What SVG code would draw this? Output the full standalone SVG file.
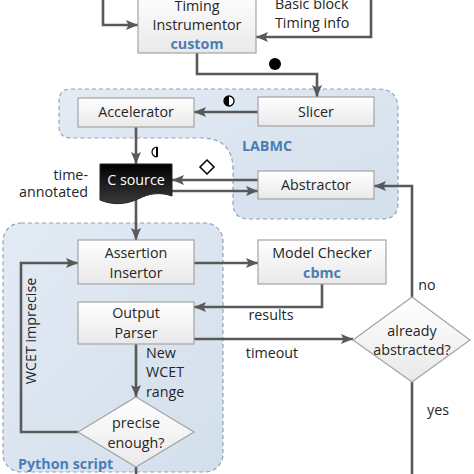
<svg xmlns="http://www.w3.org/2000/svg" width="474" height="474" viewBox="0 0 474 474">
<defs>
<linearGradient id="boxg" x1="0" y1="0" x2="0" y2="1"><stop offset="0" stop-color="#ffffff"/><stop offset="1" stop-color="#e9e9e9"/></linearGradient>
<linearGradient id="regg" x1="0" y1="0" x2="1" y2="1"><stop offset="0" stop-color="#e3ebf4"/><stop offset="1" stop-color="#d3dfec"/></linearGradient>
<linearGradient id="docg" x1="0" y1="0" x2="0" y2="1"><stop offset="0" stop-color="#000000"/><stop offset="1" stop-color="#3a3a3a"/></linearGradient>
<marker id="ah" viewBox="0 0 12 10" refX="12" refY="5" markerWidth="12" markerHeight="10" orient="auto" markerUnits="userSpaceOnUse"><path d="M0,0 L12,5 L0,10 L2.5,5 Z" fill="#595959"/></marker>
</defs>
<style>
text{font-family:"Open Sans","Liberation Sans",sans-serif;font-size:14.3px;fill:#262626}
.c{text-anchor:middle}
.b{fill:#4a7db5;font-weight:bold}
.box{fill:url(#boxg);stroke:#a3a3a3;stroke-width:1.2}
.dia{fill:url(#boxg);stroke:#a3a3a3;stroke-width:1.2}
.reg{fill:url(#regg);stroke:#8ea4bb;stroke-width:1.2;stroke-dasharray:4 3}
.ln{fill:none;stroke:#595959;stroke-width:2.6}
.ar{marker-end:url(#ah)}
</style>
<rect width="474" height="474" fill="#ffffff"/>
<g id="region-labmc">
<path class="reg" d="M71,89 H378 Q398,89 398,109 V203 Q398,219 382,219 H249 Q233,219 233,203 V170 Q233,138 201,138 H71 Q59,138 59,126 V101 Q59,89 71,89 Z"/>
<text class="c b" x="267" y="151">LABMC</text>
</g>
<g id="region-python">
<rect class="reg" x="3" y="223" width="220" height="249" rx="18"/>
<text class="b" x="18" y="469">Python script</text>
</g>
<g id="connectors">
<path class="ln ar" d="M103,-5 V25 H138"/>
<path class="ln ar" d="M371,-5 V37 H256"/>
<path class="ln ar" d="M197,53 V74 H317 V97"/>
<path class="ln ar" d="M258,112 H194"/>
<path class="ln ar" d="M136,127 V164"/>
<path class="ln ar" d="M258,180 H172"/>
<path class="ln ar" d="M172,191 H258"/>
<path class="ln ar" d="M136,200 V240"/>
<path class="ln ar" d="M194,263 H258"/>
<path class="ln ar" d="M322,284 V307 H194"/>
<path class="ln ar" d="M194,339 H353"/>
<path class="ln ar" d="M412,297 V186 H374"/>
<path class="ln" d="M412,382 V480"/>
<path class="ln ar" d="M136,344 V397"/>
<path class="ln ar" d="M78,432 H21 V263 H78"/>
<path class="ln" d="M136,467 V480"/>
</g>
<g id="labels">
<text x="275" y="9">Basic block</text>
<text x="275" y="28">Timing info</text>
<circle cx="275" cy="64" r="6" fill="#000"/>
<circle cx="229" cy="101" r="5" fill="#fff" stroke="#000" stroke-width="1.3"/>
<path d="M229,96 A5,5 0 0 0 229,106 Z" fill="#000"/>
<path d="M157,147 A5,5 0 0 0 157,157" fill="#fff" stroke="#000" stroke-width="1.2"/>
<path d="M157,147 V157" stroke="#000" stroke-width="2"/>
<polygon points="207,160 214,167 207,174 200,167" fill="#fff" stroke="#000" stroke-width="1.5"/>
<text x="88" y="180" text-anchor="end">time-</text>
<text x="88" y="197" text-anchor="end">annotated</text>
<text class="c" x="271" y="320">results</text>
<text class="c" x="272" y="358">timeout</text>
<text class="c" x="427" y="290">no</text>
<text class="c" x="438" y="415">yes</text>
<text x="146" y="358">New</text>
<text x="146" y="377">WCET</text>
<text x="146" y="397">range</text>
<text class="c" transform="translate(36,331) rotate(-90)">WCET imprecise</text>
</g>
<g id="node-timing">
<rect class="box" x="138" y="-10" width="118" height="63"/>
<text class="c" x="197" y="11">Timing</text>
<text class="c" x="197" y="30">Instrumentor</text>
<text class="c b" x="197" y="49">custom</text>
</g>
<g id="node-accelerator">
<rect class="box" x="78" y="98" width="116" height="29"/>
<text class="c" x="136" y="117">Accelerator</text>
</g>
<g id="node-slicer">
<rect class="box" x="258" y="97" width="116" height="29"/>
<text class="c" x="316" y="117">Slicer</text>
</g>
<g id="node-csource">
<path d="M100,164 H172 V196 C160,192 150,193 138,199 C125,205 112,205 100,200 Z" fill="url(#docg)" stroke="#222" stroke-width="1"/>
<text class="c" x="136" y="185" style="fill:#ffffff">C source</text>
</g>
<g id="node-abstractor">
<rect class="box" x="258" y="171" width="116" height="28"/>
<text class="c" x="316" y="190">Abstractor</text>
</g>
<g id="node-assertion">
<rect class="box" x="78" y="240" width="116" height="44"/>
<text class="c" x="136" y="258">Assertion</text>
<text class="c" x="136" y="278">Insertor</text>
</g>
<g id="node-modelchecker">
<rect class="box" x="258" y="240" width="128" height="44"/>
<text class="c" x="322" y="258">Model Checker</text>
<text class="c b" x="322" y="278">cbmc</text>
</g>
<g id="node-output">
<rect class="box" x="78" y="302" width="116" height="42"/>
<text class="c" x="136" y="318">Output</text>
<text class="c" x="136" y="338">Parser</text>
</g>
<g id="node-already">
<polygon class="dia" points="412,297 470,340 412,382 353,340"/>
<text class="c" x="412" y="336">already</text>
<text class="c" x="412" y="355">abstracted?</text>
</g>
<g id="node-precise">
<polygon class="dia" points="136,397 194,432 136,467 78,432"/>
<text class="c" x="136" y="428">precise</text>
<text class="c" x="136" y="448">enough?</text>
</g>
</svg>
